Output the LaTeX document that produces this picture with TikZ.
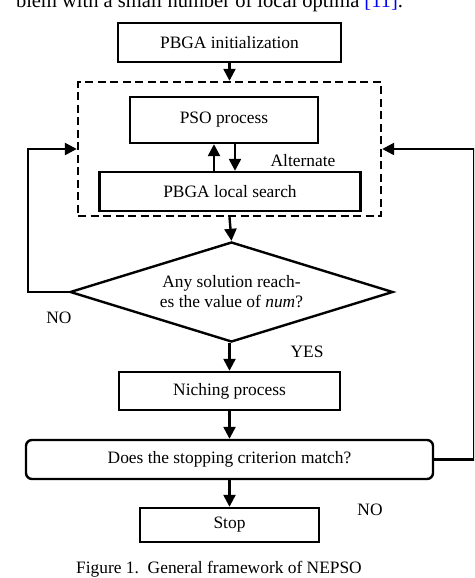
\documentclass[tikz,border=0pt]{standalone}
\usepackage{fontspec}
\setmainfont{Liberation Serif}
\usepackage{xcolor}
\usepackage{tikz}
\usetikzlibrary{arrows.meta,shapes.geometric}

\begin{document}
\begin{tikzpicture}[x=1pt, y=-1pt, line width=2.4pt,
    font=\fontsize{17.4}{20}\selectfont,
    box/.style={draw, inner sep=0pt},
    >={Triangle[length=12pt,width=12pt]}]
    \useasboundingbox (0,0) rectangle (474,578);
    \clip (0,0) rectangle (474,578);

    \node[anchor=base east, font=\fontsize{20.5}{24}\selectfont] (prev) at (407.5, 7.5) {blem with a small number of local optima \textcolor{blue}{[11]}.};

    \node[box, minimum width=223pt, minimum height=39pt] (init) at (229.5, 42.5) {PBGA initialization};
    \node[draw, dash pattern=on 8pt off 4.5pt, minimum width=303pt, minimum height=134pt] (loop) at (229.5, 149) {};
    \node[box, minimum width=188pt, minimum height=46pt] (pso) at (224, 120) {PSO process};
    \node[box, minimum width=261pt, minimum height=39pt] (search) at (230, 191.5) {PBGA local search};
    \node (alt) at (303, 161) {Alternate};
    \node[box, diamond, aspect=3.2, align=center, minimum width=323pt, minimum height=100pt] (test) at (231.5, 292) {Any solution reach-\\es the value of \textit{num}?};
    \node[box, minimum width=221pt, minimum height=38pt] (niche) at (229.5, 391) {Niching process};
    \node[box, rounded corners=6pt, minimum width=407pt, minimum height=39pt] (check) at (229.5, 459.5) {Does the stopping criterion match?};
    \node[box, minimum width=179pt, minimum height=34pt] (stop) at (229.5, 525) {Stop};

    \node (no1) at (59, 318) {NO};
    \node (yes) at (307, 352) {YES};
    \node (no2) at (370, 510) {NO};
    \node (cap) at (219, 569) {Figure 1.~~General framework of NEPSO};

    \coordinate (up) at (214, 0);
    \coordinate (down) at (235, 0);

    \draw[->] (init.south -| loop.north) to (loop.north);
    \draw[->] (search.north -| up) to (pso.south -| up);
    \draw[->] (pso.south -| down) to (search.north -| down);
    \draw[->] (loop.south) to (test.north);
    \draw[->] (test.west) -- ++(-41, 0) |- (loop.west);
    \draw[->] (test.south -| niche.north) to (niche.north);
    \draw[->] (niche) to (check);
    \draw[->] (check) to (stop);
    \draw[->] (check.east) -- ++(40, 0) |- (loop.east);
\end{tikzpicture}
\end{document}
